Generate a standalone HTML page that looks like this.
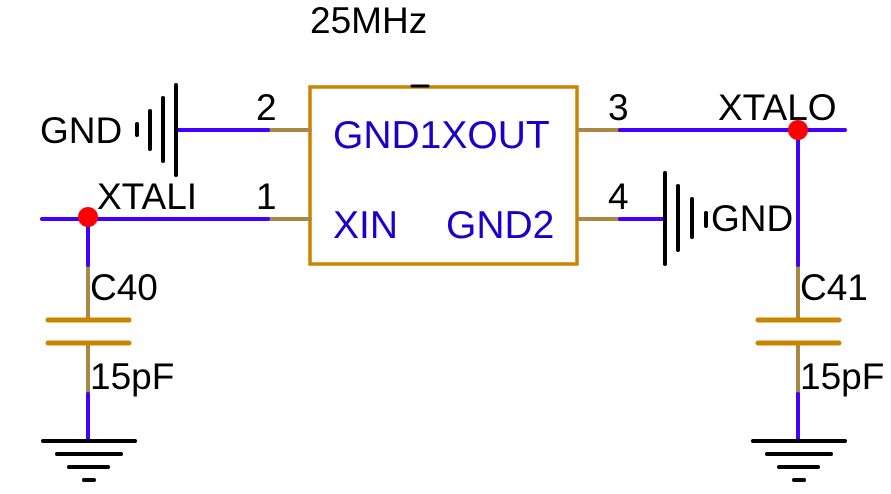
<!DOCTYPE html>
<html><head><meta charset="utf-8"><style>html,body{margin:0;padding:0;background:#fff}svg{display:block}</style></head><body>
<svg width="891" height="494" viewBox="0 0 891 494" xmlns="http://www.w3.org/2000/svg" font-family="Liberation Sans, Arial, sans-serif">
<g stroke-linecap="round" fill="none">
<rect x="310" y="87" width="267" height="177" stroke="#cc8400" stroke-width="3.5"/>
<line x1="412" y1="86" x2="428" y2="86" stroke="#000" stroke-width="3"/>
<g stroke="#aa8844" stroke-width="4">
<line x1="268" y1="130" x2="310" y2="130"/>
<line x1="268" y1="219" x2="310" y2="219"/>
<line x1="578" y1="130" x2="620" y2="130"/>
<line x1="578" y1="219" x2="620" y2="219"/>
<line x1="88" y1="265" x2="88" y2="320"/>
<line x1="88" y1="343" x2="88" y2="394"/>
<line x1="798" y1="265" x2="798" y2="320"/>
<line x1="798" y1="343" x2="798" y2="394"/>
</g>
<g stroke="#4400ff" stroke-width="4">
<line x1="176" y1="130" x2="268" y2="130"/>
<line x1="42" y1="219" x2="268" y2="219"/>
<line x1="88" y1="219" x2="88" y2="265"/>
<line x1="88" y1="394" x2="88" y2="441"/>
<line x1="620" y1="130" x2="845" y2="130"/>
<line x1="798" y1="130" x2="798" y2="265"/>
<line x1="798" y1="394" x2="798" y2="441"/>
<line x1="620" y1="219" x2="665" y2="219"/>
</g>
<g stroke="#cc8400" stroke-width="5">
<line x1="48" y1="320" x2="129" y2="320"/>
<line x1="48" y1="343" x2="129" y2="343"/>
<line x1="758" y1="320" x2="839" y2="320"/>
<line x1="758" y1="343" x2="839" y2="343"/>
</g>
<g stroke="#000" stroke-width="4">
<line x1="176" y1="85" x2="176" y2="175"/>
<line x1="163" y1="98" x2="163" y2="161"/>
<line x1="150" y1="111" x2="150" y2="149"/>
<line x1="137" y1="124" x2="137" y2="135"/>
<line x1="665" y1="173" x2="665" y2="264"/>
<line x1="678" y1="186" x2="678" y2="250"/>
<line x1="692" y1="199" x2="692" y2="237"/>
<line x1="706" y1="213" x2="706" y2="226"/>
<line x1="43" y1="441" x2="135" y2="441"/>
<line x1="57" y1="454" x2="121" y2="454"/>
<line x1="69" y1="467" x2="108" y2="467"/>
<line x1="84" y1="480" x2="94" y2="480"/>
<line x1="753" y1="441" x2="845" y2="441"/>
<line x1="767" y1="454" x2="831" y2="454"/>
<line x1="779" y1="467" x2="818" y2="467"/>
<line x1="794" y1="480" x2="804" y2="480"/>
</g>
</g>
<circle cx="88" cy="217" r="10" fill="#ff0000"/>
<circle cx="798" cy="130" r="10" fill="#ff0000"/>
<g font-size="37" fill="#000">
<text x="310" y="33">25MHz</text>
<text x="40" y="143">GND</text>
<text x="97" y="209">XTALI</text>
<text x="256" y="120">2</text>
<text x="256" y="209">1</text>
<text x="608" y="120">3</text>
<text x="608" y="209">4</text>
<text x="718" y="120">XTALO</text>
<text x="711" y="231">GND</text>
<text x="90" y="300">C40</text>
<text x="90" y="389">15pF</text>
<text x="800" y="300">C41</text>
<text x="800" y="389">15pF</text>
</g>
<g font-size="39" fill="#1a00cc">
<text x="333" y="148">GND1XOUT</text>
<text x="333" y="238">XIN</text>
<text x="446" y="238">GND2</text>
</g>
</svg>
</body></html>
